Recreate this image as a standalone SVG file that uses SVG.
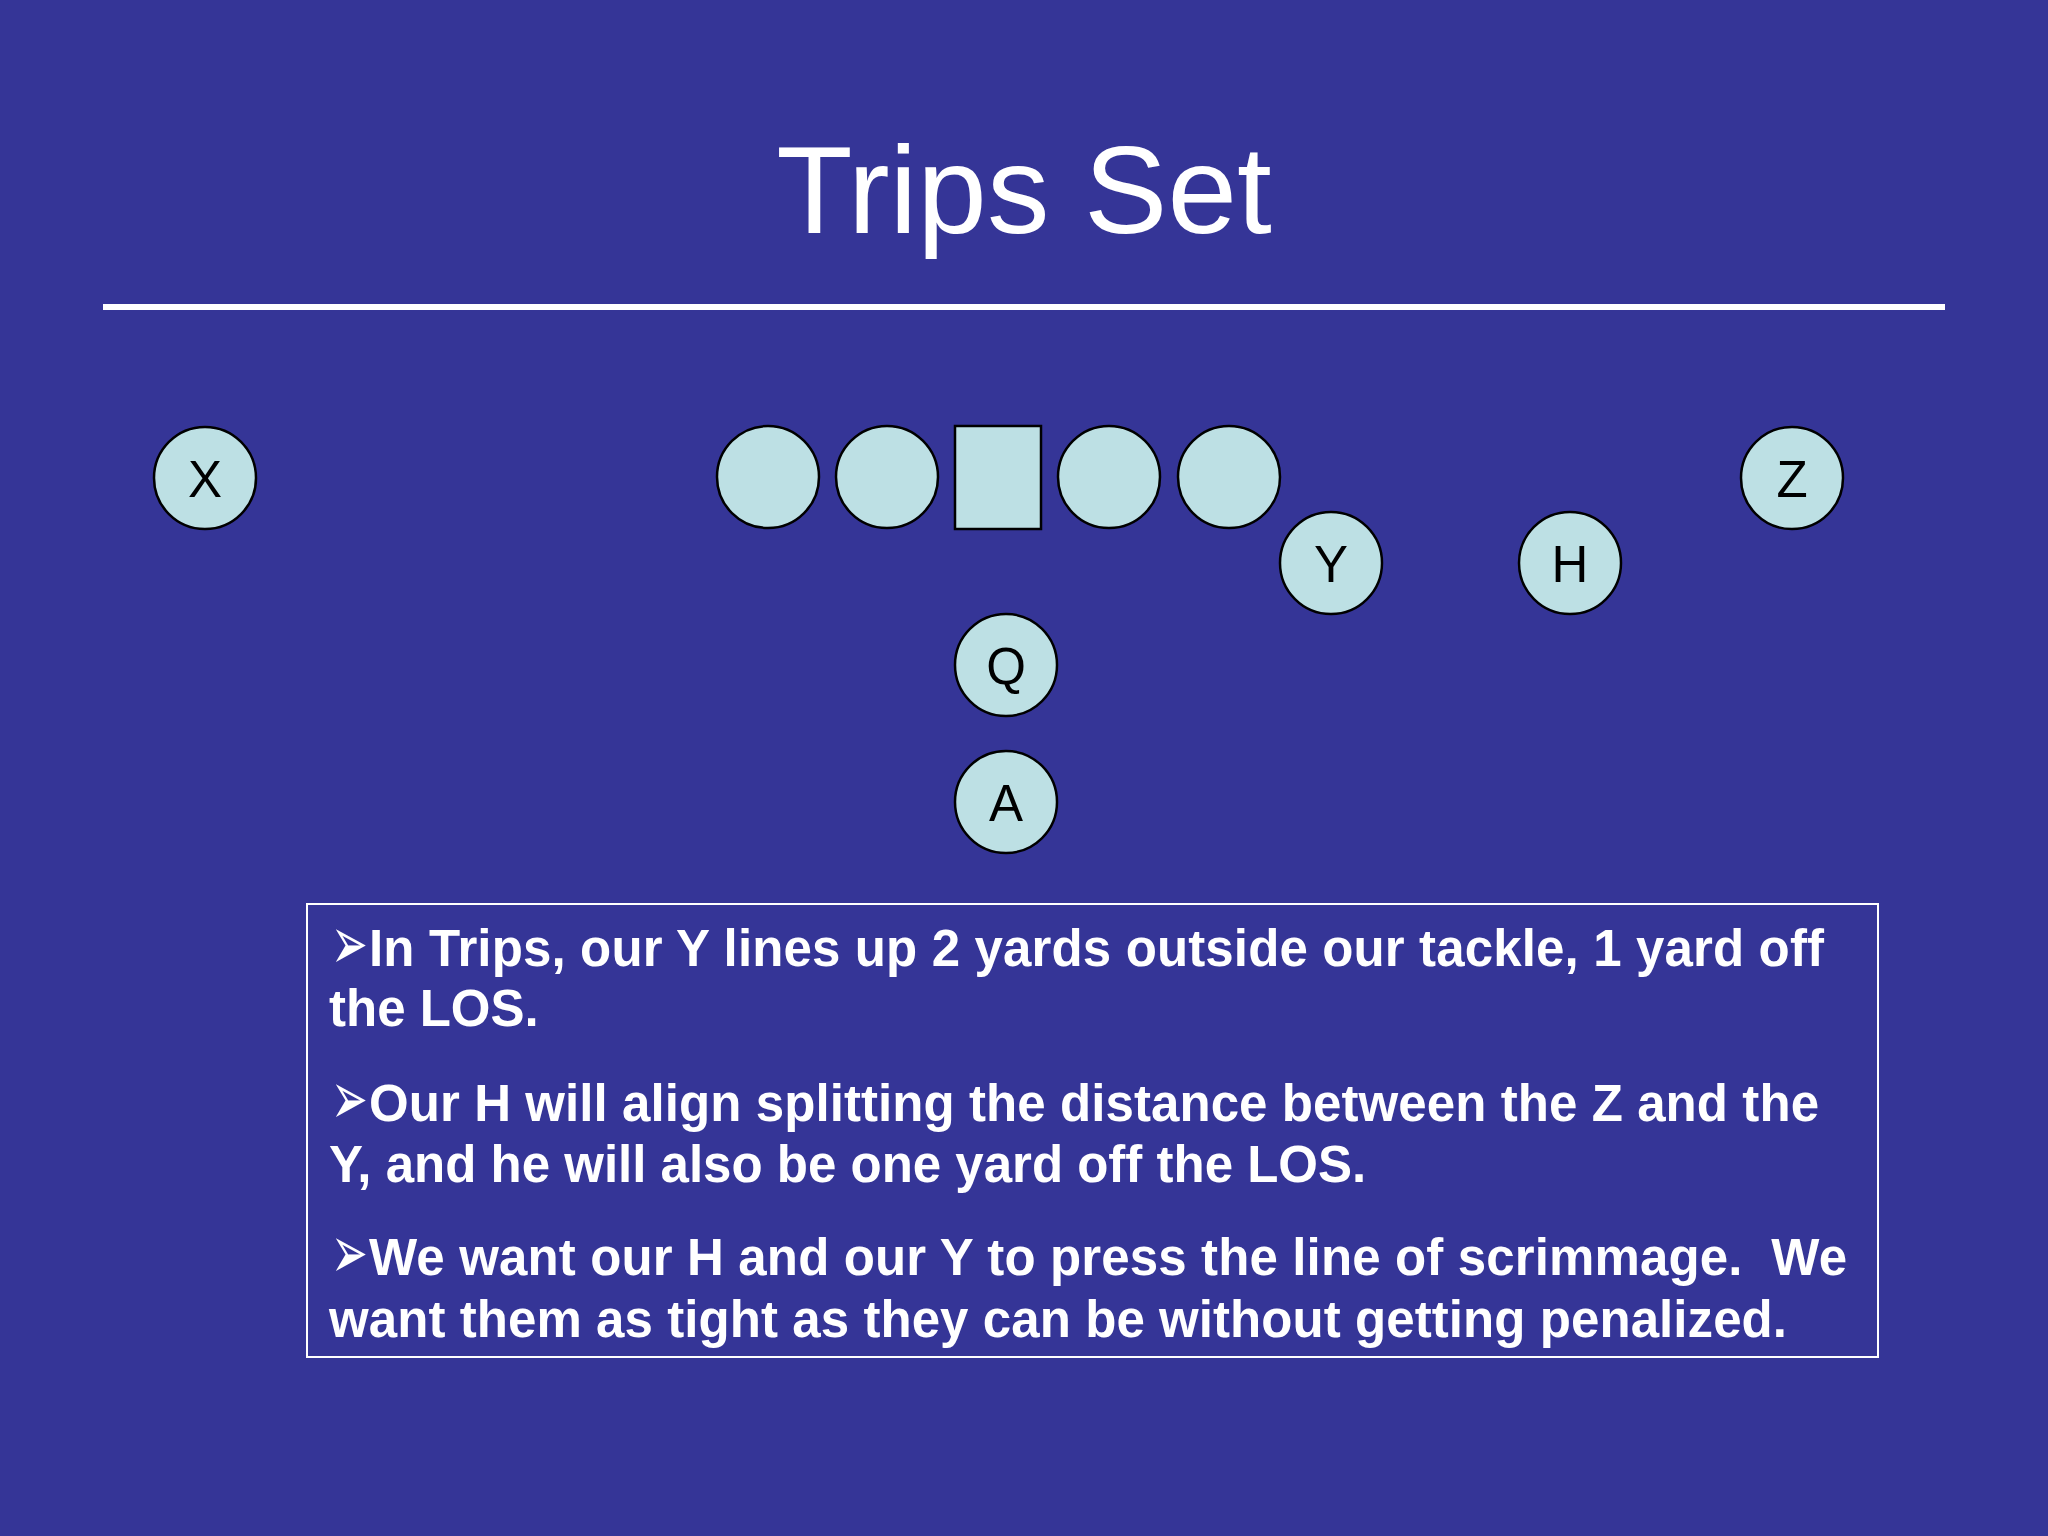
<svg xmlns="http://www.w3.org/2000/svg" width="2048" height="1536" viewBox="0 0 2048 1536">
<style>
.pl{fill:#bde0e4;stroke:#000;stroke-width:2.5}
.lb{font-family:"Liberation Sans",Arial,sans-serif;font-size:51px;fill:#000;text-anchor:middle}
.bt{font-family:"Liberation Sans",Arial,sans-serif;font-size:51px;font-weight:bold;fill:#fff;white-space:pre}
.bu{font-family:"DejaVu Sans",sans-serif;font-size:44px;fill:#fff}
</style>
<rect x="0" y="0" width="2048" height="1536" fill="#353597"/>
<text x="1024" y="233" font-family="Liberation Sans, Arial, sans-serif" font-size="125" fill="#fff" text-anchor="middle">Trips Set</text>
<rect x="103" y="304" width="1842" height="6" fill="#fff"/>
<g id="connectors"></g>
<g id="node-X"><circle class="pl" cx="205" cy="478" r="51"/><text class="lb" x="205" y="497">X</text></g>
<g id="node-LT"><circle class="pl" cx="768" cy="477" r="51"/></g>
<g id="node-LG"><circle class="pl" cx="887" cy="477" r="51"/></g>
<g id="node-C"><rect class="pl" x="955" y="426" width="86" height="103"/></g>
<g id="node-RG"><circle class="pl" cx="1109" cy="477" r="51"/></g>
<g id="node-RT"><circle class="pl" cx="1229" cy="477" r="51"/></g>
<g id="node-Y"><circle class="pl" cx="1331" cy="563" r="51"/><text class="lb" x="1331" y="582">Y</text></g>
<g id="node-H"><circle class="pl" cx="1570" cy="563" r="51"/><text class="lb" x="1570" y="582">H</text></g>
<g id="node-Z"><circle class="pl" cx="1792" cy="478" r="51"/><text class="lb" x="1792" y="497">Z</text></g>
<g id="node-Q"><circle class="pl" cx="1006" cy="665" r="51"/><text class="lb" x="1006" y="684">Q</text></g>
<g id="node-A"><circle class="pl" cx="1006" cy="802" r="51"/><text class="lb" x="1006" y="821">A</text></g>
<g id="notes">
<rect x="307" y="904" width="1571" height="453" fill="none" stroke="#fff" stroke-width="2"/>
<text class="bu" transform="translate(331,969) scale(1,1.7)">➢</text>
<text class="bt" x="369" y="966" textLength="1455" lengthAdjust="spacing">In Trips, our Y lines up 2 yards outside our tackle, 1 yard off</text>
<text class="bt" x="329" y="1026">the LOS.</text>
<text class="bu" transform="translate(331,1124) scale(1,1.7)">➢</text>
<text class="bt" x="369" y="1121" textLength="1450" lengthAdjust="spacing">Our H will align splitting the distance between the Z and the</text>
<text class="bt" x="329" y="1182">Y, and he will also be one yard off the LOS.</text>
<text class="bu" transform="translate(331,1278) scale(1,1.7)">➢</text>
<text class="bt" x="369" y="1275" textLength="1478" lengthAdjust="spacing">We want our H and our Y to press the line of scrimmage.  We</text>
<text class="bt" x="329" y="1337" textLength="1458" lengthAdjust="spacing">want them as tight as they can be without getting penalized.</text>
</g>
</svg>
